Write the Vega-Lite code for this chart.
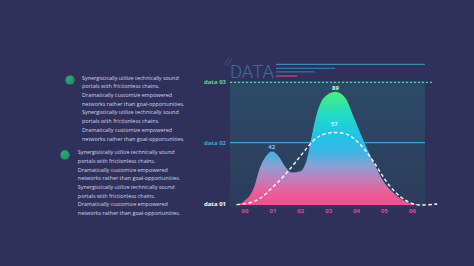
{
  "$schema": "https://vega.github.io/schema/vega-lite/v6.json",
  "width": 474,
  "height": 266,
  "autosize": {"type": "fit", "contains": "padding"},
  "padding": 0,
  "background": "#30315a",
  "config": {"view": {"stroke": null}, "font": "Open Sans"},
  "datasets": {
    "panel": [{"x1": -0.54, "x2": 6.45, "y1": -1.8, "y2": 97.5}],
    "area": [
      {"x": -0.36, "v": 0}, {"x": -0.06, "v": 2.6}, {"x": 0.3, "v": 12.5}, {"x": 0.54, "v": 29.5},
      {"x": 0.78, "v": 39}, {"x": 0.96, "v": 42}, {"x": 1.2, "v": 38.5}, {"x": 1.44, "v": 30},
      {"x": 1.68, "v": 25.5}, {"x": 1.98, "v": 26.5}, {"x": 2.22, "v": 36}, {"x": 2.4, "v": 55},
      {"x": 2.58, "v": 72}, {"x": 2.82, "v": 84}, {"x": 3.24, "v": 89}, {"x": 3.6, "v": 84},
      {"x": 3.9, "v": 69}, {"x": 4.26, "v": 50}, {"x": 4.62, "v": 33}, {"x": 4.98, "v": 18},
      {"x": 5.34, "v": 9}, {"x": 5.7, "v": 3.4}, {"x": 6.06, "v": 0.5}, {"x": 6.2, "v": 0}
    ],
    "trend": [
      {"x": -0.3, "v": 0.3}, {"x": 0.18, "v": 1.8}, {"x": 0.54, "v": 5.2}, {"x": 1.01, "v": 14.4},
      {"x": 1.37, "v": 22.2}, {"x": 1.73, "v": 31.4}, {"x": 1.97, "v": 38}, {"x": 2.21, "v": 44.5},
      {"x": 2.45, "v": 50.5}, {"x": 2.75, "v": 55}, {"x": 3.17, "v": 57}, {"x": 3.53, "v": 56.3},
      {"x": 3.89, "v": 52.4}, {"x": 4.25, "v": 44.5}, {"x": 4.61, "v": 34}, {"x": 4.91, "v": 23.6},
      {"x": 5.21, "v": 14.4}, {"x": 5.57, "v": 6.5}, {"x": 5.93, "v": 1.8}, {"x": 6.29, "v": 0},
      {"x": 6.89, "v": 0.8}
    ],
    "ticks": [
      {"x": 0, "t": "00"}, {"x": 1, "t": "01"}, {"x": 2, "t": "02"}, {"x": 3, "t": "03"},
      {"x": 4, "t": "04"}, {"x": 5, "t": "05"}, {"x": 6, "t": "06"}
    ],
    "deco": [
      {"k": "a", "x1": 1.11, "x2": 6.45, "v": 110.5},
      {"k": "b", "x1": 1.11, "x2": 3.23, "v": 107.4},
      {"k": "c", "x1": 1.11, "x2": 2.51, "v": 104.5},
      {"k": "d", "x1": 1.11, "x2": 1.87, "v": 101.3}
    ],
    "text1": [
      {"v": 100.0, "t": "Synergistically utilize technically sound"},
      {"v": 93.2, "t": "portals with frictionless chains."},
      {"v": 86.3, "t": "Dramatically customize empowered"},
      {"v": 79.5, "t": "networks rather than goal-opportunities."},
      {"v": 72.7, "t": "Synergistically utilize technically sound"},
      {"v": 65.8, "t": "portals with frictionless chains."},
      {"v": 59.0, "t": "Dramatically customize empowered"},
      {"v": 52.2, "t": "networks rather than goal-opportunities."}
    ],
    "text2": [
      {"v": 41.4, "t": "Synergistically utilize technically sound"},
      {"v": 34.6, "t": "portals with frictionless chains."},
      {"v": 27.7, "t": "Dramatically customize empowered"},
      {"v": 20.9, "t": "networks rather than goal-opportunities."},
      {"v": 14.1, "t": "Synergistically utilize technically sound"},
      {"v": 7.2, "t": "portals with frictionless chains."},
      {"v": 0.4, "t": "Dramatically customize empowered"},
      {"v": -6.4, "t": "networks rather than goal-opportunities."}
    ],
    "bullets": [{"x": -6.27, "v": 98.2}, {"x": -6.45, "v": 39.3}]
  },
  "encoding": {
    "x": {"type": "quantitative", "scale": {"domain": [-8.781, 8.208], "nice": false, "zero": false}, "axis": null},
    "y": {"type": "quantitative", "scale": {"domain": [-47.92, 161.04], "nice": false, "zero": false}, "axis": null}
  },
  "layer": [
    {
      "data": {"name": "panel"},
      "mark": {"type": "rect", "color": {"gradient": "linear", "x1": 0, "y1": 0, "x2": 0, "y2": 1, "stops": [{"offset": 0, "color": "#2c4a66"}, {"offset": 1, "color": "#2d3c5c"}]}},
      "encoding": {"x": {"field": "x1"}, "x2": {"field": "x2"}, "y": {"field": "y1"}, "y2": {"field": "y2"}}
    },
    {
      "data": {"values": [{"level": "data 03", "v": 96.4}]},
      "mark": {"type": "rule", "color": "#52d4a8", "strokeWidth": 1.2, "strokeDash": [2, 2]},
      "encoding": {"x": {"datum": -0.54}, "x2": {"datum": 6.74}, "y": {"field": "v"}}
    },
    {
      "data": {"values": [{"level": "data 02", "v": 49}]},
      "mark": {"type": "rule", "color": "#3fa6d2", "strokeWidth": 1.3},
      "encoding": {"x": {"datum": -0.54}, "x2": {"datum": 6.45}, "y": {"field": "v"}}
    },
    {
      "data": {"name": "area"},
      "mark": {"type": "area", "interpolate": "monotone", "color": {"gradient": "linear", "x1": 0, "y1": 1, "x2": 0, "y2": 0, "stops": [
        {"offset": 0, "color": "#f2508c"}, {"offset": 0.12, "color": "#e8609a"}, {"offset": 0.25, "color": "#b884c0"},
        {"offset": 0.35, "color": "#8aa0d4"}, {"offset": 0.46, "color": "#40b4e4"}, {"offset": 0.62, "color": "#1ec4ea"},
        {"offset": 0.8, "color": "#22dcc4"}, {"offset": 1, "color": "#44f27a"}]}},
      "encoding": {"x": {"field": "x"}, "y": {"field": "v"}, "y2": {"datum": 0}}
    },
    {
      "data": {"name": "trend"},
      "mark": {"type": "line", "interpolate": "monotone", "color": "#ffffff", "strokeWidth": 1.4, "strokeDash": [3.5, 2.5]},
      "encoding": {"x": {"field": "x"}, "y": {"field": "v"}}
    },
    {
      "data": {"values": [{"x": 0.96, "v": 42, "label": "42"}]},
      "mark": {"type": "text", "fontSize": 6, "fontWeight": "bold", "color": "#8cc4ec", "baseline": "bottom", "dy": -2},
      "encoding": {"x": {"field": "x"}, "y": {"field": "v"}, "text": {"field": "label"}}
    },
    {
      "data": {"values": [{"x": 3.24, "v": 89, "label": "89"}]},
      "mark": {"type": "text", "fontSize": 6, "fontWeight": "bold", "color": "#c8ffd8", "baseline": "bottom", "dy": -1},
      "encoding": {"x": {"field": "x"}, "y": {"field": "v"}, "text": {"field": "label"}}
    },
    {
      "data": {"values": [{"x": 3.2, "v": 57, "label": "57"}]},
      "mark": {"type": "text", "fontSize": 6, "fontWeight": "bold", "color": "#d6f4ff", "baseline": "bottom", "dy": -5},
      "encoding": {"x": {"field": "x"}, "y": {"field": "v"}, "text": {"field": "label"}}
    },
    {
      "data": {"name": "ticks"},
      "mark": {"type": "text", "fontSize": 6, "fontWeight": "bold", "color": "#d4509e"},
      "encoding": {"x": {"field": "x"}, "y": {"datum": -4.7}, "text": {"field": "t"}}
    },
    {
      "data": {"values": [{"level": "data 03", "v": 96.4}]},
      "mark": {"type": "text", "fontSize": 6, "fontWeight": "bold", "color": "#48e08c", "align": "right"},
      "encoding": {"x": {"datum": -0.68}, "y": {"field": "v"}, "text": {"field": "level"}}
    },
    {
      "data": {"values": [{"level": "data 02", "v": 49}]},
      "mark": {"type": "text", "fontSize": 6, "fontWeight": "bold", "color": "#3fa6d2", "align": "right"},
      "encoding": {"x": {"datum": -0.68}, "y": {"field": "v"}, "text": {"field": "level"}}
    },
    {
      "data": {"values": [{"level": "data 01", "v": 0.5}]},
      "mark": {"type": "text", "fontSize": 6, "fontWeight": "bold", "color": "#ffffff", "align": "right"},
      "encoding": {"x": {"datum": -0.68}, "y": {"field": "v"}, "text": {"field": "level"}}
    },
    {
      "data": {"values": [{"t": "DATA"}]},
      "mark": {"type": "text", "font": "Roboto", "fontSize": 18.5, "fontWeight": 300, "color": "#3d6d9c", "align": "left", "baseline": "alphabetic"},
      "encoding": {"x": {"datum": -0.54}, "y": {"datum": 99.6}, "text": {"field": "t"}}
    },
    {
      "data": {"values": [{"t": "//"}]},
      "mark": {"type": "text", "font": "Roboto", "fontSize": 10, "fontWeight": 300, "color": "#4a7aa8", "align": "left", "baseline": "alphabetic", "angle": 12},
      "encoding": {"x": {"datum": -0.75}, "y": {"datum": 110.5}, "text": {"field": "t"}}
    },
    {
      "data": {"name": "deco"},
      "mark": {"type": "rule", "strokeWidth": 1.3},
      "encoding": {
        "x": {"field": "x1"}, "x2": {"field": "x2"}, "y": {"field": "v"},
        "color": {"field": "k", "type": "nominal", "legend": null, "scale": {"domain": ["a", "b", "c", "d"], "range": ["#3a8cb0", "#3873b2", "#3a6aa6", "#c04a88"]}}
      }
    },
    {
      "data": {"name": "bullets"},
      "mark": {"type": "circle", "size": 85, "opacity": 1, "color": {"gradient": "linear", "x1": 0, "y1": 0, "x2": 1, "y2": 1, "stops": [{"offset": 0, "color": "#2bb37a"}, {"offset": 1, "color": "#1f8a66"}]}},
      "encoding": {"x": {"field": "x"}, "y": {"field": "v"}}
    },
    {
      "data": {"name": "text1"},
      "mark": {"type": "text", "fontSize": 5.4, "color": "#d4d4ea", "align": "left"},
      "encoding": {"x": {"datum": -5.84}, "y": {"field": "v"}, "text": {"field": "t"}}
    },
    {
      "data": {"name": "text2"},
      "mark": {"type": "text", "fontSize": 5.4, "color": "#d4d4ea", "align": "left"},
      "encoding": {"x": {"datum": -5.99}, "y": {"field": "v"}, "text": {"field": "t"}}
    }
  ]
}
